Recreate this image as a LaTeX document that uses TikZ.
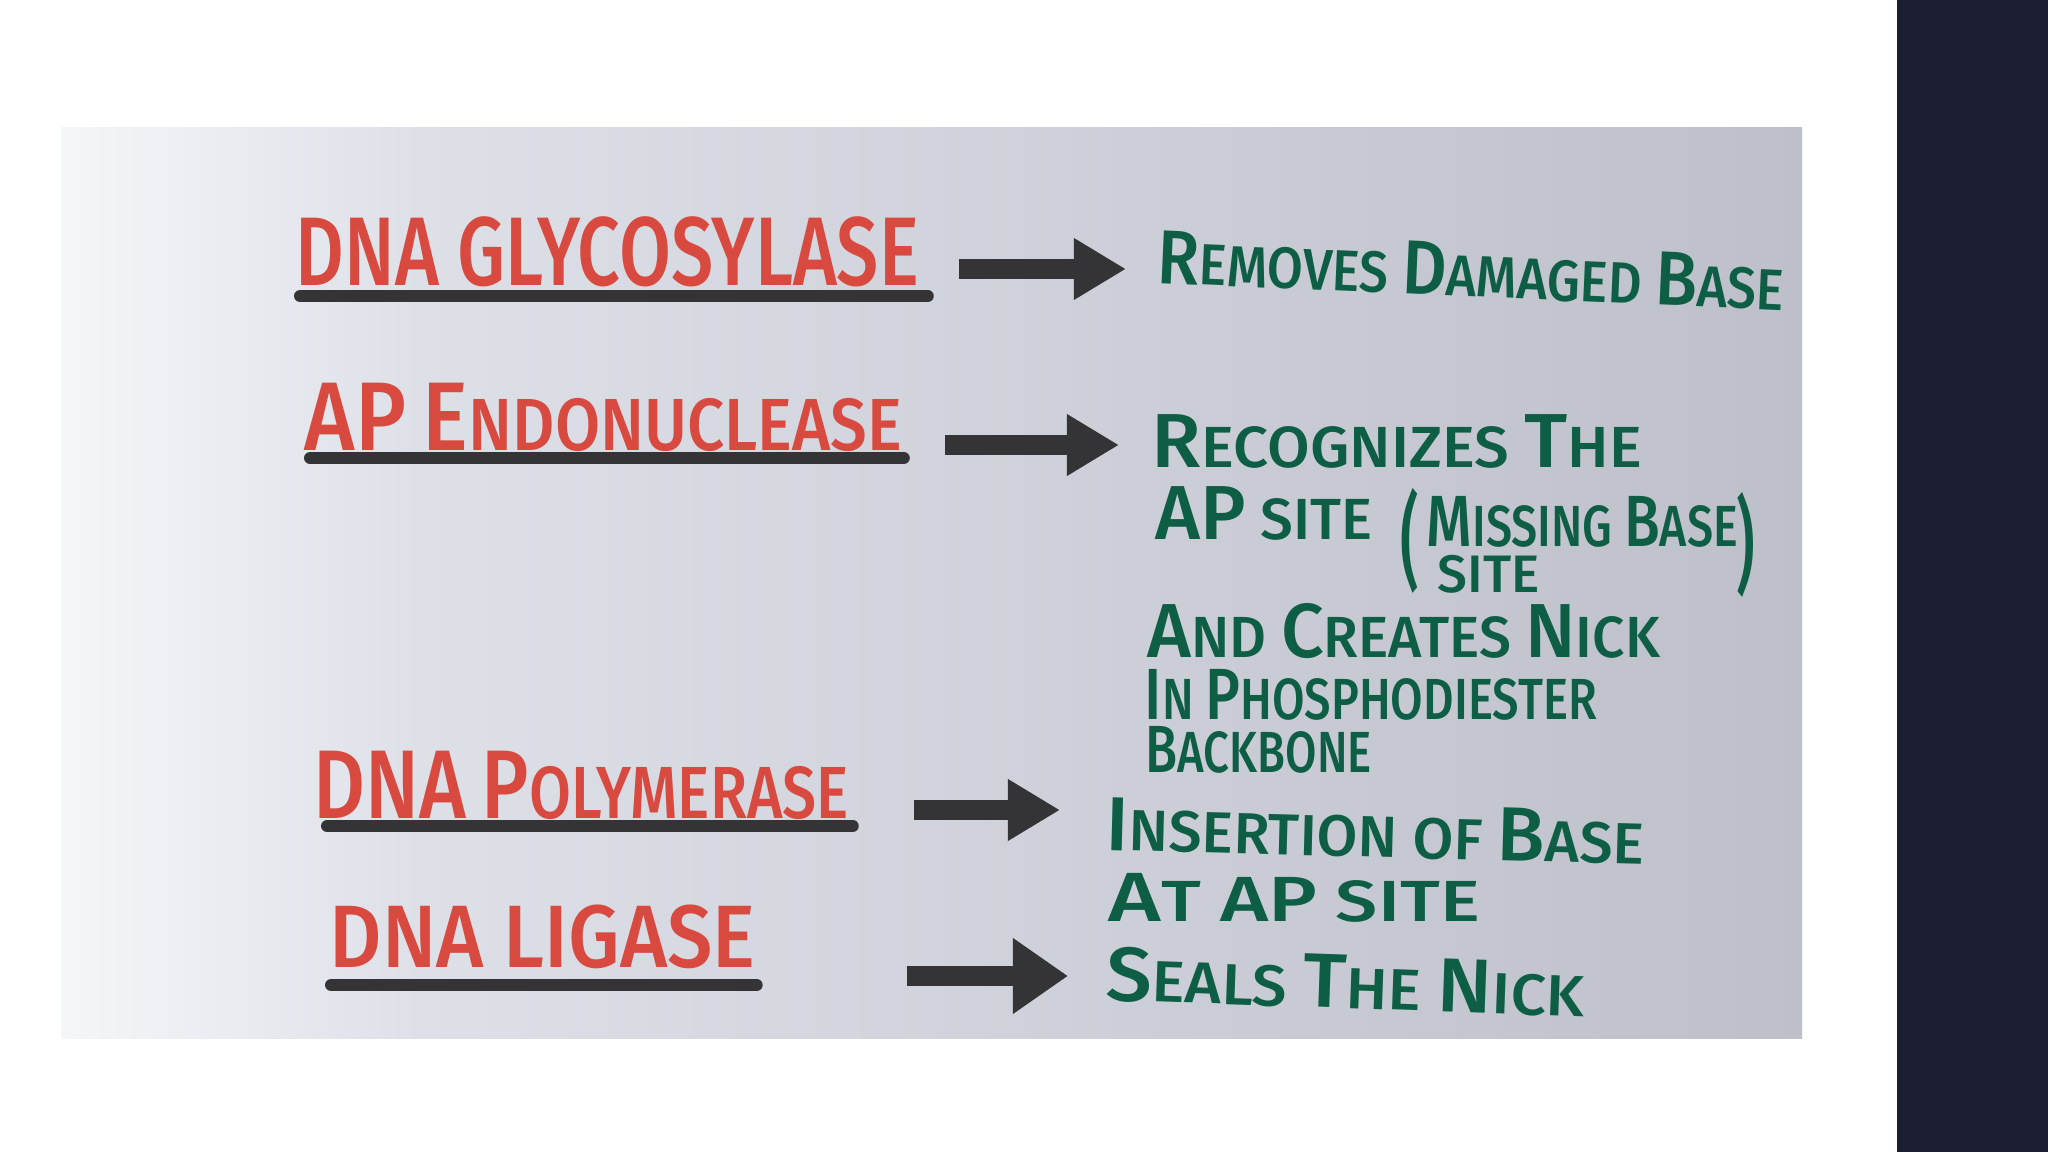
\documentclass[tikz,border=0pt]{standalone}
\usepackage{fontspec}
\newfontfamily\handfont[FakeStretch=0.8, UprightFont=* Medium]{Fira Sans}
\usetikzlibrary{arrows.meta,positioning,calc}
\definecolor{inkred}{RGB}{216,74,64}
\definecolor{inkgreen}{RGB}{14,94,70}
\definecolor{inkgray}{RGB}{52,52,54}
\definecolor{paperleft}{RGB}{244,246,249}
\definecolor{papermid}{RGB}{221,224,231}
\definecolor{paperright}{RGB}{189,191,201}
\definecolor{navy}{RGB}{28,30,52}
\newcommand{\up}[1]{\scalebox{1.32}{#1}}
\newcommand{\wide}[2]{\resizebox{#1}{\height}{#2}}

\tikzset{
  enzyme/.style={anchor=base west, inner sep=0pt, text=inkred, font=\handfont\fontsize{21}{24}\selectfont},
  effect/.style={anchor=base west, inner sep=0pt, text=inkgreen, font=\handfont\fontsize{16.5}{20}\selectfont},
  paren/.style={inner sep=0pt, text=inkgreen, font=\handfont\fontsize{17}{20}\selectfont},
  uline/.style={line width=0.12cm, inkgray, line cap=round},
  fatarrow/.style={line width=0.19cm, inkgray, -{Triangle[length=0.52cm, width=0.58cm]}}
}

\begin{document}
\begin{tikzpicture}[x=0.01cm, y=-0.01cm]
  \useasboundingbox (0,0) rectangle (2048,1152);
  \fill[white] (0,0) rectangle (2048,1152);
  % paper and side strip
  \shade[left color=paperleft, right color=papermid] (61,128) rectangle (420,1038);
  \shade[left color=papermid, right color=paperright] (419.5,128) rectangle (1802,1038);
  \fill[navy] (1897,0) rectangle (2048,1152);

  % enzymes
  \node[enzyme] (glyc) at (295,286) {\wide{6.23cm}{\up{DNA GLYCOSYLASE}}};
  \node[enzyme] (endo) at (304,451) {\wide{5.97cm}{\up{AP} \up{E}NDONUCLEASE}};
  \node[enzyme] (poly) at (313,818) {\wide{5.35cm}{\up{DNA} \up{P}OLYMERASE}};
  \node[enzyme] (liga) at (329,967) {\wide{4.26cm}{\scalebox{1.2}{DNA LIGASE}}};

  \draw[uline] ([shift={(5,10)}]glyc.base west) -- ([shift={(8,10)}]glyc.base east);
  \draw[uline] ([shift={(6,7)}]endo.base west) -- ([shift={(1,7)}]endo.base east);
  \draw[uline] ([shift={(14,8)}]poly.base west) -- ([shift={(3,8)}]poly.base east);
  \draw[uline] ([shift={(2,18)}]liga.base west) -- ([shift={(0,18)}]liga.base east);

  % what each one does
  \node[effect, rotate=-2.5] (rem) at (1156,283) {\wide{6.27cm}{\up{R}EMOVES \up{D}AMAGED \up{B}ASE}};
  \node[effect] (rec) at (1151,468) {\wide{4.9cm}{\up{R}ECOGNIZES \up{T}HE}};
  \node[effect] (apsite) at (1155,540) {\wide{2.17cm}{\up{AP} SITE}};
  \node[paren] (lpar) at (1410,541) {\scalebox{1.2}[1.75]{(}};
  \node[effect] (miss) at (1426,547) {\wide{3.11cm}{\scalebox{1.25}{M}ISSING \scalebox{1.25}{B}ASE}};
  \node[effect, font=\handfont\fontsize{15}{18}\selectfont] (site) at (1437,593) {\wide{1.02cm}{SITE}};
  \node[paren] (rpar) at (1746,545) {\scalebox{1.2}[1.75]{)}};
  \node[effect] (andc) at (1147,657) {\wide{5.12cm}{\up{A}ND \up{C}REATES \up{N}ICK}};
  \node[effect] (inph) at (1144,719) {\wide{4.52cm}{\scalebox{1.25}{I}N \scalebox{1.25}{P}HOSPHODIESTER}};
  \node[effect] (back) at (1145,772) {\wide{2.26cm}{\scalebox{1.15}{B}ACKBONE}};
  \node[effect, rotate=-1.5] (ins) at (1105,850) {\wide{5.38cm}{\up{I}NSERTION OF \up{B}ASE}};
  \node[effect] (atap) at (1108,921) {\wide{3.71cm}{\scalebox{1.2}{A}T \scalebox{1.1}{AP} SITE}};
  \node[effect, rotate=-2] (seals) at (1105,1000) {\wide{4.78cm}{\up{S}EALS \up{T}HE \up{N}ICK}};

  % arrows
  \draw[fatarrow] ([shift={(39,-17)}]glyc.base east) -- ([shift={(-30,-14)}]rem.base west);
  \draw[fatarrow] ([shift={(42,-6)}]endo.base east) -- ([shift={(-32,-23)}]rec.base west);
  \draw[fatarrow] ([shift={(64,-8)}]poly.base east) -- ([shift={(-45,-40)}]ins.base west);
  \draw[fatarrow, -{Triangle[length=0.55cm, width=0.72cm]}] ([shift={(150,9)}]liga.base east) -- ([shift={(-37,-24)}]seals.base west);
\end{tikzpicture}
\end{document}
